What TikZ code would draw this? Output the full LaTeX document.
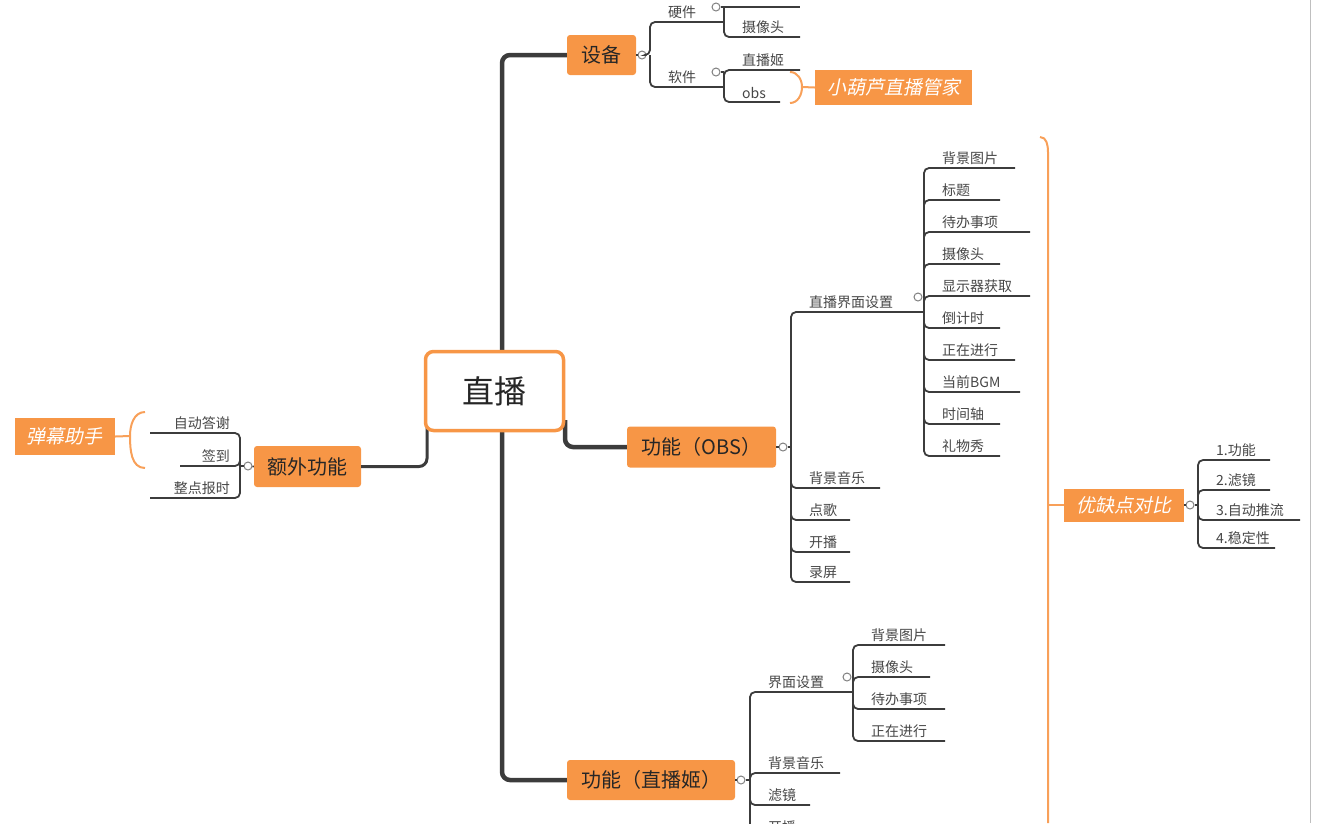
\documentclass[tikz,border=0pt]{standalone}
\usepackage{fontspec}
\setmainfont{Noto Sans CJK SC}
\newfontfamily\slantcjk[FakeSlant=0.2]{Noto Sans CJK SC}
\usetikzlibrary{positioning}
\definecolor{mmorange}{RGB}{247,150,70}
\definecolor{mmline}{RGB}{60,60,60}
\definecolor{mmtext}{RGB}{70,70,70}
\tikzset{
  leaf/.style={anchor=south west,inner xsep=18pt,inner ysep=3pt,text=mmtext,font=\fontsize{14}{16}\selectfont},
  lleaf/.style={anchor=south east,inner xsep=10pt,inner ysep=3pt,text=mmtext,font=\fontsize{14}{16}\selectfont},
  twig/.style={draw=mmline,line width=1.8pt,rounded corners=5pt},
  trunk/.style={draw=mmline,line width=4.5pt,rounded corners=8pt},
  topic/.style={fill=mmorange,rounded corners=3pt,inner sep=0pt,font=\fontsize{20}{22}\selectfont,text=black!85},
  callout/.style={fill=mmorange,inner sep=0pt,text=white,font=\fontsize{19}{22}\slantcjk},
  knob/.style={circle,draw=gray,line width=1pt,inner sep=0pt,minimum size=8pt,fill=white},
  brace/.style={draw=mmorange!90,line width=2pt}
}
\begin{document}
\begin{tikzpicture}[x=1pt,y=-1pt]
  \useasboundingbox (0,0) rectangle (1317,823);
  \draw[gray!50,line width=1pt] (1310,0) -- (1310,823);
  % main trunk
  \node[topic,minimum width=69pt,minimum height=40pt] (dev) at (601.5,55) {设备};
  \node[topic,minimum width=149pt,minimum height=41pt] (obs) at (701.5,447) {功能（OBS）};
  \node[topic,minimum width=168pt,minimum height=40pt] (ji) at (651,780) {功能（直播姬）};
  \node[topic,minimum width=107pt,minimum height=41pt] (extra) at (307.5,466.5) {额外功能};
  \draw[trunk] (dev.west) -| (502,430) |- (ji.west);
  \draw[trunk] (565,420) |- (obs.west);
  \draw[trunk,line width=3pt] (427,420) |- (extra.east);
  \node[draw=mmorange,line width=3.5pt,fill=white,rounded corners=8pt,minimum width=138pt,minimum height=79pt,font=\fontsize{32}{36}\selectfont,text=black!85] (root) at (494.5,391) {直播};
  % 设备
  \node[knob] (devk) at (642,55) {};
  \draw[twig] (dev.east) -- (devk);
  \coordinate (devb) at (650,55);
  \node[leaf] (hw) at (650,22) {硬件};
  \node[leaf] (sw) at (650,87) {软件};
  \draw[twig] (devk) -- (devb) |- ([xshift=74pt]hw.south west);
  \draw[twig] (devb) |- ([xshift=74pt]sw.south west);
  \node[knob] (hwk) at (716,7) {};
  \node[knob] (swk) at (716,72) {};
  \node[leaf] (cam) at (724,37) {摄像头};
  \node[leaf] (zbj) at (724,70) {直播姬};
  \node[leaf] (obsl) at (724,102) {obs};
  \draw[twig,rounded corners=0pt] (hwk) -- (724,7);
  \draw[twig] (724,7) |- ([xshift=76pt]cam.south west);
  \draw[twig] (724,7) -- (800,7);
  \draw[twig,rounded corners=0pt] (swk) -- (724,72);
  \draw[twig] (724,72) |- ([xshift=76pt]zbj.south west);
  \draw[twig] (724,72) |- ([xshift=56pt]obsl.south west);
  \node[callout,minimum width=157pt,minimum height=35pt] (hulu) at (893.5,87.5) {小葫芦直播管家};
  \draw[brace] (790,72) to[out=0,in=90] (802,87) to[out=-90,in=0] (790,103);
  \draw[brace] (802,87) -- (hulu.west);
  % 功能（OBS）
  \node[knob] (obsk) at (783,447) {};
  \draw[twig] (obs.east) -- (obsk);
  \coordinate (obsb) at (791,447);
  \draw[twig] (obsk) -- (obsb);
  \node[leaf] (ui) at (791,312) {直播界面设置};
  \draw[twig] (obsb) |- ([xshift=133pt]ui.south west);
  \foreach \t/\y/\w [count=\i] in {背景音乐/488/89,点歌/520/59,开播/552/59,录屏/582/59}{
    \node[leaf] (om\i) at (791,\y) {\t};
    \draw[twig] (obsb) |- ([xshift=\w pt]om\i.south west);
  }
  \node[knob] (uik) at (918,297) {};
  \coordinate (uib) at (924,312);
  \foreach \t/\y/\w [count=\i] in {背景图片/168/91,标题/200/76,待办事项/232/106,摄像头/264/76,显示器获取/296/106,倒计时/328/76,正在进行/360/91,当前BGM/392/96,时间轴/424/76,礼物秀/456/76}{
    \node[leaf] (os\i) at (924,\y) {\t};
    \draw[twig] (uib) |- ([xshift=\w pt]os\i.south west);
  }
  % 功能（直播姬）
  \node[knob] (jik) at (741,780) {};
  \draw[twig] (ji.east) -- (jik);
  \coordinate (jib) at (750,780);
  \draw[twig] (jik) -- (jib);
  \node[leaf] (jui) at (750,692) {界面设置};
  \draw[twig] (jib) |- ([xshift=103pt]jui.south west);
  \foreach \t/\y/\w [count=\i] in {背景音乐/773/90,滤镜/805/60,开播/837/60}{
    \node[leaf] (jm\i) at (750,\y) {\t};
    \draw[twig] (jib) |- ([xshift=\w pt]jm\i.south west);
  }
  \node[knob] (juik) at (847,677) {};
  \coordinate (juib) at (853,692);
  \foreach \t/\y/\w [count=\i] in {背景图片/645/92,摄像头/677/77,待办事项/709/92,正在进行/741/92}{
    \node[leaf] (js\i) at (853,\y) {\t};
    \draw[twig] (juib) |- ([xshift=\w pt]js\i.south west);
  }
  % 优缺点对比
  \node[callout,minimum width=120pt,minimum height=33pt] (cmp) at (1124,505) {优缺点对比};
  \draw[brace] (1040,137) to[out=0,in=90] (1048,152) -- (1048,823);
  \draw[brace] (1048,505) -- (cmp.west);
  \node[knob] (cmpk) at (1190,505) {};
  \draw[twig] (cmp.east) -- (cmpk);
  \coordinate (cmpb) at (1198,505);
  \draw[twig] (cmpk) -- (cmpb);
  \foreach \t/\y/\w [count=\i] in {1.功能/460/72,2.滤镜/490/72,3.自动推流/520/102,4.稳定性/548/77}{
    \node[leaf] (cp\i) at (1198,\y) {\t};
    \draw[twig] (cmpb) |- ([xshift=\w pt]cp\i.south west);
  }
  % 额外功能
  \node[knob] (exk) at (248,466) {};
  \draw[twig] (extra.west) -- (exk);
  \coordinate (exb) at (240,466);
  \draw[twig] (exk) -- (exb);
  \foreach \t/\y/\w [count=\i] in {自动答谢/433/90,签到/466/60,整点报时/498/90}{
    \node[lleaf] (ex\i) at (240,\y) {\t};
    \draw[twig] (exb) |- ([xshift=-\w pt]ex\i.south east);
  }
  \node[callout,minimum width=100pt,minimum height=37pt] (dm) at (65,436.5) {弹幕助手};
  \draw[brace] (145,412) to[out=180,in=90] (130,436) to[out=-90,in=180] (145,468);
  \draw[brace] (130,436) -- (dm.east);
\end{tikzpicture}
\end{document}
